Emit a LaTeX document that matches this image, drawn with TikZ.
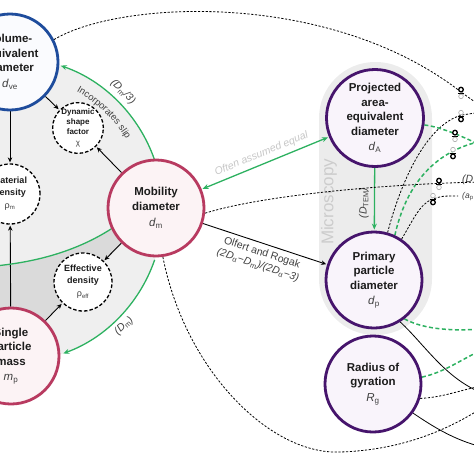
\documentclass[tikz,border=0pt]{standalone}
\usepackage{fontspec}
\setmainfont{Liberation Sans}
\usetikzlibrary{arrows.meta,decorations.text}
\definecolor{redc}{HTML}{B83A60}
\definecolor{purc}{HTML}{46146C}
\definecolor{bluc}{HTML}{1E4C9C}
\definecolor{grnc}{HTML}{2DB160}
\definecolor{pinkf}{HTML}{FCF3F5}
\definecolor{lavf}{HTML}{F9F4FB}
\definecolor{bluf}{HTML}{FAFBFE}
\definecolor{lgray}{HTML}{EFEFEF}
\definecolor{dgray}{HTML}{DADADA}
\definecolor{mgray}{HTML}{ECECEC}
\definecolor{txtc}{HTML}{1C1C1C}
\definecolor{symc}{HTML}{404040}
\pgfdeclarelayer{bg}
\pgfdeclarelayer{conn}
\pgfsetlayers{bg,conn,main}
\newcommand{\vsym}[2]{{\mdseries\color{symc}\textit{#1}\textsubscript{#2}}}
\newcommand{\gsym}[2]{{\mdseries\color{symc}#1\textsubscript{#2}}}
\begin{document}
\begin{tikzpicture}[x=1pt,y=-1pt,
  bignode/.style={circle, minimum size=96pt, inner sep=0pt, line width=2.8pt, align=center,
     font=\fontsize{11.5}{14.5}\selectfont\bfseries, text=txtc},
  rednode/.style={bignode, draw=redc, fill=pinkf},
  purnode/.style={bignode, draw=purc, fill=lavf},
  blunode/.style={bignode, draw=bluc, fill=bluf},
  dashnode/.style={circle, draw=black, fill=white, line width=1.3pt, dash pattern=on 3.5pt off 2pt,
     inner sep=0pt, align=center, font=\fontsize{9}{12}\selectfont\bfseries, text=txtc},
  arr/.style={-{Stealth[length=5pt,width=4.5pt]}, line width=0.9pt, shorten >=1pt},
  garr/.style={-{Stealth[length=6pt,width=5pt]}, draw=grnc, line width=1.3pt, shorten >=1pt},
  bdash/.style={line width=0.8pt, dash pattern=on 2.2pt off 1.6pt},
  gdash/.style={draw=grnc, line width=1.5pt, dash pattern=on 4pt off 2.5pt},
  bsolid/.style={line width=0.8pt},
  lab/.style={font=\fontsize{10.5}{13}\selectfont, text=symc},
  osa/.pic={
    \draw[line width=0.8pt] (-3.2,0) -- (3.2,0);
    \draw[line width=1.3pt, fill=white] (0,-3.4) circle[radius=2.3pt];
    \draw[line width=0.7pt, draw=gray!60, fill=white] (0,3.4) circle[radius=2.3pt];
  },
  osb/.pic={
    \draw[line width=0.8pt] (-3.2,0) -- (3.2,0);
    \draw[line width=0.7pt, draw=gray!60, fill=white] (0,-3.4) circle[radius=2.3pt];
    \draw[line width=1.3pt, fill=white] (0,3.4) circle[radius=2.3pt];
  }
]
\useasboundingbox (0,0) rectangle (474,474);

% ---- nodes
\node[blunode] (dve) at (10,62) {Volume-\\equivalent\\diameter\\[1pt]\vsym{d}{ve}};
\node[dashnode, minimum size=50pt, font=\fontsize{8}{10}\selectfont\bfseries] (dsf) at (78,128) {Dynamic\\shape\\factor\\[1pt]{\mdseries\color{symc}χ}};
\node[dashnode, minimum size=60pt] (md) at (10,194) {Material\\density\\[1pt]\gsym{ρ}{m}};
\node[rednode] (dm) at (156,208) {Mobility\\diameter\\[2pt]\vsym{d}{m}};
\node[dashnode, minimum size=58pt] (eff) at (83,282) {Effective\\density\\[1pt]\gsym{ρ}{eff}};
\node[rednode] (mp) at (11,356) {Single\\particle\\mass\\[1pt]\vsym{m}{p}};
\node[purnode, minimum size=97pt] (dA) at (375,118) {Projected\\area-\\equivalent\\diameter\\[1pt]\vsym{d}{A}};
\node[purnode] (dp) at (374,280) {Primary\\particle\\diameter\\[1pt]\vsym{d}{p}};
\node[purnode] (Rg) at (373,384) {Radius of\\gyration\\[1pt]\vsym{R}{g}};

% ---- background
\begin{pgfonlayer}{bg}
\coordinate (C) at (10,210);
\fill[lgray] (C) circle[radius=153pt];
\fill[dgray] (dm.205) .. controls (75,252) and (35,262) .. (-5,266) -- (-5,335) -- (40,325) -- (128,238) -- cycle;
\fill[mgray, rounded corners=56pt] (319,62) rectangle (432,335);
\node[rotate=90, text=gray!40, font=\fontsize{17}{17}\selectfont] (micro) at (329,202) {Microscopy};
\end{pgfonlayer}

% ---- connectors
\begin{pgfonlayer}{conn}
\draw[arr] (dve) -- (md);
\draw[arr] (mp) -- (md);
\draw[arr] (dve) -- (dsf);
\draw[arr] (dm) -- (dsf);
\draw[arr] (dm) -- (eff);
\draw[arr] (mp) -- (eff);

\draw[garr] ([shift={(19:153pt)}]C) arc[start angle=19, end angle=71, radius=153pt];
\draw[garr] ([shift={(-19:153pt)}]C) arc[start angle=-19, end angle=-70, radius=153pt];
\coordinate (gleft) at (-5,266);
\draw[grnc, line width=1.3pt] (dm.205) .. controls (75,252) and (35,262) .. (gleft);

\node[lab, rotate=-45] (ldmt) at (123,92) {\textit{(D}\textsubscript{m}\textit{/3)}};
\node[lab, rotate=43] (ldm) at (124,326) {\textit{(D}\textsubscript{m}\textit{)}};
\path[decorate, decoration={text along path, text={|\fontsize{9.5}{10}\selectfont\color{symc}|Incorporates slip}, text align=center}]
  ([shift={(64:136pt)}]C) arc[start angle=64, end angle=28, radius=136pt];

\draw[grnc, line width=1.3pt, {Stealth[length=6pt,width=5pt]}-{Stealth[length=6pt,width=5pt]}, shorten <=1pt, shorten >=1pt]
  (dm) -- (dA) node[midway, above=1pt, sloped, font=\fontsize{10.5}{12}\selectfont\itshape, text=gray!45] (often) {Often assumed equal};
\draw[arr] (dm) -- (dp) node[midway, below=1pt, sloped, align=center, lab] (olf)
  {Olfert and Rogak\\\textit{(2D}\textsubscript{α}\textit{−D}\textsubscript{m}\textit{)/(2D}\textsubscript{α}\textit{−3)}};
\draw[garr] (dA) -- (dp);
\node[lab, rotate=90] (ltem) at (364,203) {\textit{(D}\textsubscript{TEM}\textit{)}};

% right side connectors
\coordinate (e1) at (482,107);
\coordinate (e2) at (482,112);
\coordinate (e3) at (482,146);
\coordinate (e4) at (482,141);
\coordinate (e5) at (482,182);
\coordinate (e6) at (458,196);
\coordinate (e7) at (482,329);
\coordinate (e8) at (482,393);
\coordinate (e9) at (482,350);
\coordinate (e10) at (482,386);
\coordinate (e11) at (482,447);
\coordinate (e12) at (482,408);
\draw[bdash] (dve.27) .. controls (120,0) and (330,-10) .. (461,92) -- (e1);
\draw[bdash] (dp.74) .. controls (400,185) and (425,125) .. (462,115) -- (e2);
\draw[gdash] (dA.-8) .. controls (440,127) and (460,135) .. (e3);
\draw[gdash] (dp.65) .. controls (405,190) and (430,152) .. (e4);
\draw[bdash] (dm.-6) .. controls (260,196) and (380,184) .. (e5);
\draw[bdash] (dp.56) .. controls (412,222) and (420,203) .. (433,199) .. controls (442,196) .. (e6);
\draw[gdash] (dp.-52) .. controls (425,330) and (455,331) .. (e7);
\draw[bsolid] (dp.-58) .. controls (425,345) and (445,378) .. (e8);
\draw[gdash] (Rg.8) .. controls (445,372) and (460,360) .. (e9);
\draw[bdash] (Rg.-17) .. controls (445,397) and (460,390) .. (e10);
\draw[bsolid] (Rg.-36) .. controls (435,428) and (455,440) .. (e11);
\draw[bdash] (dm.-82) .. controls (185,370) and (270,455) .. (340,452) .. controls (405,450) and (450,428) .. (e12);

\pic at (461,93) {osa};
\pic at (461,116) {osb};
\pic at (455,136) {osa};
\pic at (453,153) {osb};
\pic at (439,184) {osa};
\pic at (433,199) {osb};

\node[lab, anchor=west, inner sep=0pt] (lD) at (462,180) {\textit{(D}};
\node[lab, anchor=west, inner sep=0pt, font=\fontsize{8.5}{10}\selectfont] (lap) at (462,197) {\textit{(a}\textsubscript{p}};
\end{pgfonlayer}
\end{tikzpicture}
\end{document}
